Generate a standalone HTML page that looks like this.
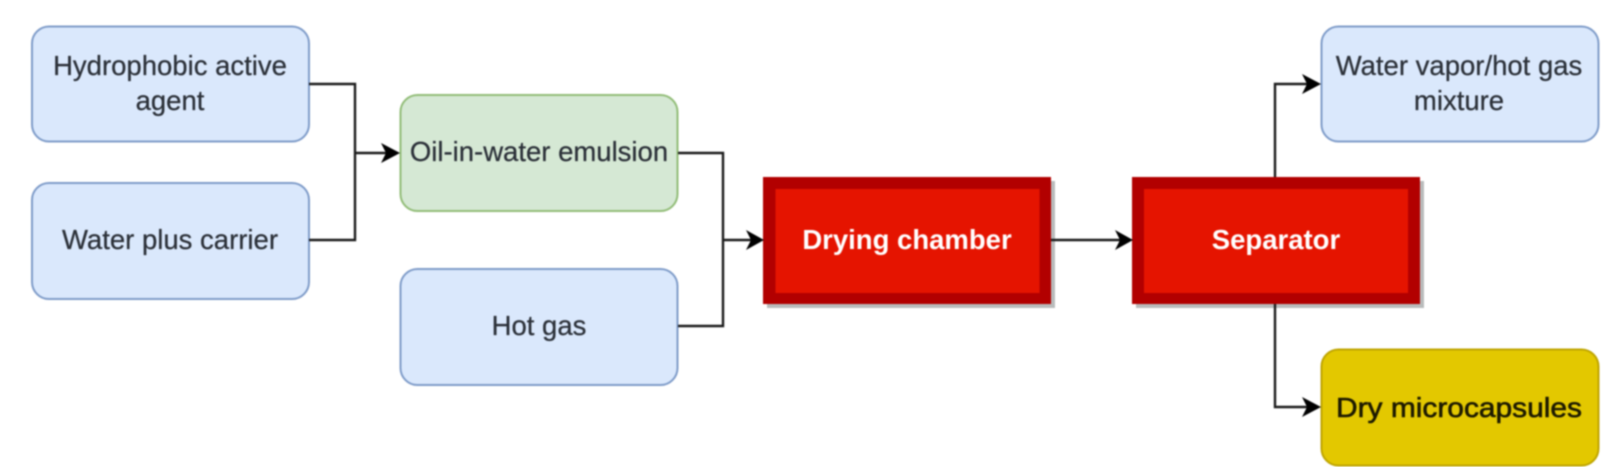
<!DOCTYPE html>
<html>
<head>
<meta charset="utf-8">
<style>
html,body{margin:0;padding:0;background:#fff;width:1607px;height:467px;overflow:hidden}
svg{display:block;filter:blur(0.7px)}
text{font-family:"Liberation Sans",sans-serif;font-size:27.5px;fill:#2b3038;text-anchor:middle;stroke:#2b3038;stroke-width:0.25}
.b{font-weight:bold;fill:#fff;stroke:none}
.l{fill:none;stroke:#1c1c1c;stroke-width:2.4}
.a{fill:#000}
.blue{fill:#dae8fc;stroke:#7f9cc9;stroke-width:2}
</style>
</head>
<body>
<svg width="1607" height="467" viewBox="0 0 1607 467" xmlns="http://www.w3.org/2000/svg">
<rect class="blue" x="32" y="26.500" width="277" height="115" rx="17"/>
<rect class="blue" x="32" y="183" width="277" height="116" rx="17"/>
<rect x="400.500" y="95" width="277" height="116" rx="17" fill="#d5e8d4" stroke="#92bd78" stroke-width="2"/>
<rect class="blue" x="400.500" y="269" width="277" height="116" rx="17"/>
<rect class="blue" x="1321.500" y="26.500" width="277" height="115" rx="17"/>
<rect x="1321.500" y="349.500" width="277" height="116" rx="17" fill="#e3c800" stroke="#bfa500" stroke-width="2"/>

<rect x="767" y="181" width="288" height="127" fill="#b9bcbc"/>
<rect x="763" y="177" width="288" height="127" fill="#b20000"/>
<rect x="775.500" y="189" width="264" height="104" fill="#e51400"/>
<rect x="1136" y="181" width="288" height="127" fill="#b9bcbc"/>
<rect x="1132" y="177" width="288" height="127" fill="#b20000"/>
<rect x="1144" y="189" width="264" height="104" fill="#e51400"/>

<path class="l" d="M309 84H355V240H309M355 153H392"/>
<path class="l" d="M678 153H723V326H678M723 240H754"/>
<path class="l" d="M1051 240H1123"/>
<path class="l" d="M1275 177V84H1312"/>
<path class="l" d="M1275 304V407H1312"/>
<path class="a" d="M400 153L381 143L386 153L381 163Z"/>
<path class="a" d="M764 240L746 230L751 240L746 250Z"/>
<path class="a" d="M1133 240L1115 230L1120 240L1115 250Z"/>
<path class="a" d="M1321 84L1302 74L1307 84L1302 94Z"/>
<path class="a" d="M1321 407L1302 397L1307 407L1302 417Z"/>

<text x="170" y="75">Hydrophobic active</text>
<text x="170" y="110">agent</text>
<text x="170" y="249">Water plus carrier</text>
<text x="539" y="161">Oil-in-water emulsion</text>
<text x="539" y="335">Hot gas</text>
<text class="b" x="907" y="249">Drying chamber</text>
<text class="b" x="1276" y="249">Separator</text>
<text x="1459" y="75">Water vapor/hot gas</text>
<text x="1459" y="110">mixture</text>
<text x="1459" y="417" style="fill:#1d1a00;stroke:#1d1a00;stroke-width:0.6" textLength="246" lengthAdjust="spacingAndGlyphs">Dry microcapsules</text>
</svg>
</body>
</html>
